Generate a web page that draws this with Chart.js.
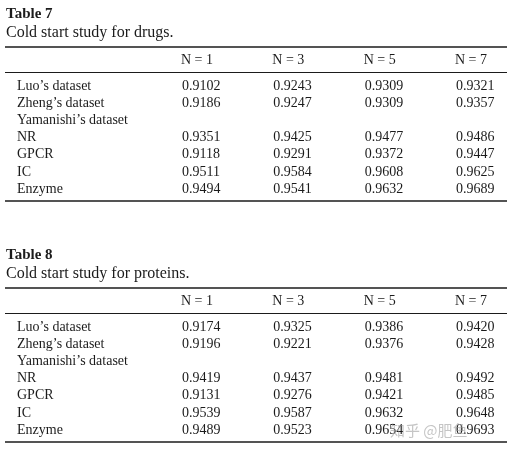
<!DOCTYPE html>
<html>
<head>
<meta charset="utf-8">
<script src="https://cdn.jsdelivr.net/npm/chart.js@4.4.1/dist/chart.umd.min.js"></script>
<style>
  html, body { margin: 0; padding: 0; background: #fff; }
  .wrap { position: absolute; left: 0; width: 510px; }
  #t7 { top: 0; height: 241px; }
  #t8 { top: 241px; height: 211px; }
</style>
</head>
<body>
<div class="wrap" id="t7"><canvas id="chart7"></canvas></div>
<div class="wrap" id="t8"><canvas id="chart8"></canvas></div>
<script>
// --- Datos ---
const columns = ['N = 1', 'N = 3', 'N = 5', 'N = 7'];
const rows = ["Luo’s dataset", "Zheng’s dataset", "Yamanishi’s dataset", 'NR', 'GPCR', 'IC', 'Enzyme'];

const drugsTitle = 'Table 7';
const drugsCaption = 'Cold start study for drugs.';
const drugsValues = [
  [0.9102, 0.9243, 0.9309, 0.9321],
  [0.9186, 0.9247, 0.9309, 0.9357],
  null,
  [0.9351, 0.9425, 0.9477, 0.9486],
  [0.9118, 0.9291, 0.9372, 0.9447],
  [0.9511, 0.9584, 0.9608, 0.9625],
  [0.9494, 0.9541, 0.9632, 0.9689]
];

const proteinsTitle = 'Table 8';
const proteinsCaption = 'Cold start study for proteins.';
const proteinsValues = [
  [0.9174, 0.9325, 0.9386, 0.9420],
  [0.9196, 0.9221, 0.9376, 0.9428],
  null,
  [0.9419, 0.9437, 0.9481, 0.9492],
  [0.9131, 0.9276, 0.9421, 0.9485],
  [0.9539, 0.9587, 0.9632, 0.9648],
  [0.9489, 0.9523, 0.9654, 0.9693]
];

const watermark = '知乎 @肥鱼';

// --- Estilos ---
const ink = '#1b1b1b';
const serif = '"Liberation Serif", "Times New Roman", serif';

// Plugin que dibuja la tabla usando las escalas de Chart.js
const tablePlugin = {
  id: 'tablePlugin',
  afterDatasetsDraw(chart, args, opts) {
    const ctx = chart.ctx;
    const xs = chart.scales.x;
    const ys = chart.scales.y;
    ctx.save();
    ctx.fillStyle = ink;
    ctx.textBaseline = 'middle';
    ctx.textAlign = 'left';

    // titulo y leyenda
    ctx.font = 'bold 15px ' + serif;
    ctx.fillText(opts.title, 6, 14);
    ctx.font = '16px ' + serif;
    ctx.fillText(opts.caption, 6, 33);

    // reglas horizontales
    ctx.strokeStyle = ink;
    const rule = (y, w) => {
      ctx.lineWidth = w;
      ctx.beginPath();
      ctx.moveTo(5, y);
      ctx.lineTo(507, y);
      ctx.stroke();
    };
    rule(47, 1.4);
    rule(72.5, 1);
    rule(201, 1.4);

    // encabezados de columna
    ctx.font = '14px ' + serif;
    columns.forEach((c, j) => {
      ctx.fillText(c, xs.getPixelForValue(j) - 1, 60);
    });

    // etiquetas de fila
    rows.forEach((r, i) => {
      ctx.fillText(r, 17, ys.getPixelForValue(i));
    });

    // valores desde los elementos del dataset
    chart.data.datasets.forEach((ds, d) => {
      const meta = chart.getDatasetMeta(d);
      meta.data.forEach((pt, i) => {
        const raw = ds.data[i];
        if (raw.v == null) return;
        ctx.fillText(raw.v.toFixed(4), pt.x, pt.y);
      });
    });

    if (opts.watermark) {
      ctx.fillStyle = 'rgba(150,150,150,0.55)';
      ctx.font = '15px "Noto Sans CJK SC", sans-serif';
      ctx.fillText(opts.watermark, 390, ys.getPixelForValue(rows.length - 1));
    }
    ctx.restore();
  }
};

function buildTable(canvasId, title, caption, values, height, mark) {
  const datasets = columns.map((c, j) => ({
    label: c,
    data: rows.map((r, i) => ({ x: c, y: r, v: values[i] ? values[i][j] : null })),
    pointRadius: 0,
    pointHoverRadius: 0,
    showLine: false
  }));
  return new Chart(document.getElementById(canvasId), {
    type: 'scatter',
    data: { datasets },
    options: {
      responsive: true,
      maintainAspectRatio: false,
      animation: false,
      events: [],
      layout: { padding: { left: 182, right: 54, top: 86, bottom: height - 189 } },
      plugins: {
        legend: { display: false },
        tooltip: { enabled: false },
        tablePlugin: { title, caption, watermark: mark }
      },
      scales: {
        x: { type: 'category', labels: columns, offset: false, display: false },
        y: { type: 'category', labels: rows, offset: false, display: false }
      }
    },
    plugins: [tablePlugin]
  });
}

buildTable('chart7', drugsTitle, drugsCaption, drugsValues, 241, null);
buildTable('chart8', proteinsTitle, proteinsCaption, proteinsValues, 211, watermark);
</script>
</body>
</html>
